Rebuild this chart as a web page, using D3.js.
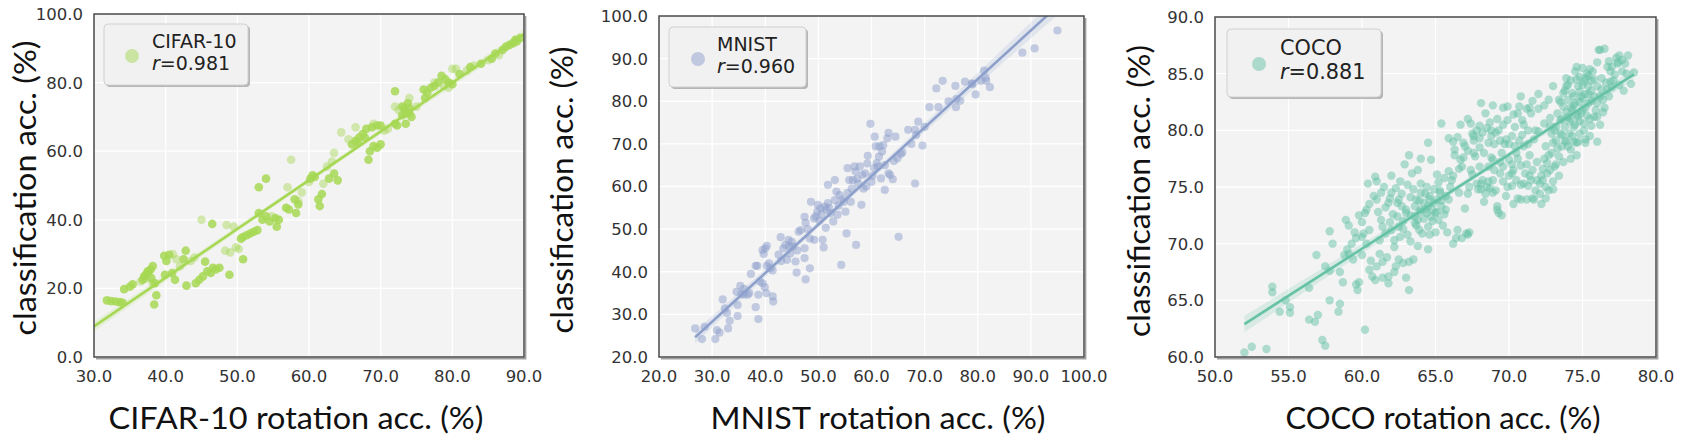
<!DOCTYPE html>
<html lang="en">
<head>
<meta charset="UTF-8">
<title>Rotation accuracy vs classification accuracy</title>
<script src="https://d3js.org/d3.v7.min.js"></script>
<style>
  body { margin: 0; background: #fff; }
  svg { display: block; }
  .tick-label { font-family: "DejaVu Sans", sans-serif; font-size: 16.5px; fill: #333; }
  .axis-title { font-family: Lato, "Open Sans", sans-serif; fill: #111; }
  .legend-text { font-family: "DejaVu Sans", sans-serif; fill: #222; }
</style>
</head>
<body>
<svg id="chart" width="1684" height="436"></svg>
<script>
// ---- data ----
const cifarDark = [
  [31.8,16.5],[32.4,16.3],[33.0,16.2],[33.6,16.0],[34.0,15.8],
  [34.2,19.8],[35.0,20.5],[35.4,21.2],
  [36.8,22.5],[37.0,23.5],[37.3,24.2],[37.6,24.8],[37.9,25.5],[38.2,26.5],[37.5,25.0],[38.0,23.0],
  [38.5,21.5],[38.7,18.0],[38.4,15.3],
  [39.8,29.5],[40.1,28.0],[40.5,29.8],[40.9,24.5],[39.9,24.0],[41.3,22.5],
  [42.5,28.5],[42.8,31.0],[42.9,20.8],[44.2,21.5],[44.7,22.5],[45.2,23.5],[45.5,27.8],[45.8,25.0],
  [46.3,24.5],[46.6,26.0],[47.0,25.5],[47.5,26.0],[46.5,38.8],
  [48.9,24.0],[50.5,34.5],[50.8,35.0],[51.3,35.5],[51.8,36.0],[52.3,36.5],[52.8,37.0],[50.8,28.5],
  [53.0,42.0],[53.5,40.0],[54.0,41.0],[54.5,39.5],[55.3,40.5],[55.5,38.0],[55.8,40.0],[54.0,52.0],[53.0,49.5],
  [56.8,43.5],[57.2,43.0],[58.0,46.0],[58.2,42.0],[58.5,44.5],
  [60.2,52.0],[60.5,53.0],[60.8,52.5],[61.3,46.0],[61.5,44.0],[61.8,47.5],[62.8,52.0],[63.5,53.5],[64.0,51.5],
  [66.0,62.0],[66.5,63.0],[67.0,64.0],[67.5,65.0],[68.0,66.5],[67.8,64.0],[66.8,62.5],[68.5,60.0],[68.3,57.5],
  [69.0,61.5],[69.5,61.0],[70.0,62.0],[69.5,67.5],[70.0,67.5],[68.8,67.0],
  [72.0,77.5],[73.0,73.0],[73.3,72.5],[73.8,74.0],[73.0,70.5],[74.0,71.0],[74.3,70.0],[73.5,68.0],[72.3,67.5],
  [72.0,68.0],[73.5,71.0],[74.0,72.5],
  [76.0,78.0],[76.5,77.0],[77.0,78.5],[77.5,79.0],[78.0,80.0],[78.5,82.0],[79.0,81.0],[79.5,80.0],[80.0,79.5],[76.2,75.5],
  [81.0,82.5],[82.5,84.5],[84.0,85.5],[85.5,87.0],[86.0,88.5],[87.0,89.5],[87.5,90.5],[88.0,91.0],[88.5,91.5],
  [89.0,92.0],[89.5,93.0],[88.8,92.5]
];
const cifarLight = [
  [36.5,22.0],[37.2,22.8],[38.2,21.5],[41.0,30.0],[41.5,28.5],[42.0,26.5],[43.5,28.0],[44.0,29.0],[45.0,40.0],
  [48.5,38.5],[49.0,30.5],[49.5,38.0],[48.3,31.0],[49.8,32.0],[50.2,31.5],[54.8,41.0],[57.5,57.5],[57.0,49.5],
  [58.5,45.5],[59.0,48.0],[60.0,51.0],[62.0,50.5],[62.5,55.5],[63.2,57.0],[63.5,59.5],[64.5,65.5],[65.5,63.5],
  [66.5,67.0],[69.0,68.0],[70.5,66.0],[71.0,66.5],[72.0,73.0],[72.5,72.0],[74.0,75.5],[75.0,73.0],[77.5,80.0],
  [78.8,79.0],[79.5,78.5],[80.0,84.0],[80.5,84.0],[82.0,83.5],[83.0,85.0],[85.0,86.5],[86.5,88.0]
];
const mnistPoints = [
  [26.8,26.7],[28.1,24.2],[28.6,27.1],[30.6,24.2],[30.9,26.3],[31.4,25.7],[32.0,33.5],[32.4,31.4],[32.8,30.3],
  [33.3,28.5],[33.0,26.7],[34.6,35.3],[34.8,32.2],[34.8,29.6],[35.3,36.7],[36.0,34.6],[36.7,34.6],[35.5,34.8],
  [37.3,39.5],[38.2,41.4],[38.5,41.4],[38.2,31.7],[38.7,28.9],[38.7,34.6],[39.0,37.7],[39.5,37.3],[39.9,36.4],
  [40.2,35.0],[39.5,45.1],[40.0,45.5],[40.3,46.1],[39.7,44.2],[40.3,41.4],[40.7,42.0],[41.0,40.8],[41.4,40.3],
  [41.4,34.2],[41.5,33.0],[42.9,48.1],[43.4,45.5],[43.8,46.3],[44.4,47.5],[44.1,42.8],[44.7,44.3],[45.2,45.9],
  [45.7,42.4],[45.9,39.8],[46.3,49.4],[46.7,49.8],[47.4,52.9],[47.6,51.5],[47.4,45.5],[47.4,43.2],[47.6,38.2],
  [48.4,40.8],[48.6,56.4],[48.4,47.8],[49.2,52.5],[49.2,47.5],[49.8,54.1],[49.9,55.7],[50.4,54.9],[50.8,47.5],
  [51.0,45.7],[51.4,50.3],[51.2,55.3],[51.8,56.1],[51.8,60.4],[52.3,53.7],[52.8,51.8],[53.1,56.8],[53.1,61.5],
  [53.4,58.8],[53.6,53.4],[54.0,58.0],[54.3,41.6],[54.8,56.4],[55.1,54.1],[55.3,49.0],[55.5,64.3],[55.8,61.5],
  [56.1,56.4],[56.5,61.5],[56.8,64.7],[57.0,63.5],[57.1,46.3],[57.5,60.7],[57.8,64.7],[58.1,55.7],[58.3,62.7],
  [58.8,63.1],[59.0,60.0],[59.2,65.4],[59.3,67.2],[59.8,74.7],[60.0,61.1],[60.5,64.3],[60.6,71.7],[60.8,69.4],
  [61.2,64.7],[61.4,67.0],[61.5,69.4],[61.8,61.9],[62.0,68.2],[62.2,69.7],[62.5,59.2],[62.5,65.0],[63.0,71.3],
  [63.2,72.6],[63.2,63.1],[63.5,62.7],[64.0,61.7],[64.5,71.7],[64.9,66.6],[65.1,48.2],[65.5,67.6],[66.9,73.3],
  [68.2,73.3],[68.4,72.1],[68.8,75.2],[68.2,60.7],[69.6,69.6],[70.9,78.6],[72.2,83.0],[72.6,78.6],[73.4,84.8],
  [75.8,83.6],[75.9,78.6],[76.7,80.1],[77.6,84.6],[78.9,84.2],[79.6,81.6],[80.6,84.8],[81.2,87.2],[81.6,84.8],
  [82.3,83.3],[88.4,91.4],[90.7,92.4],[95.0,96.6],
  [50.2,52.0],[50.6,53.5],[51.5,54.5],[52.0,55.0],[53.8,55.5],[54.5,57.0],[55.5,58.5],[56.3,59.5],[57.3,61.8],
  [44.5,46.0],[45.0,47.0],[46.0,45.0],[42.5,44.0],[43.0,42.5],[36.0,36.0],[37.0,35.0],[49.5,53.0],[48.0,50.0],
  [58.5,59.5],[60.2,62.5],[61.0,65.5],[64.2,66.0],[65.8,68.0],[67.5,70.0],[70.0,74.0],[74.5,80.0],[76.0,80.5],
  [79.0,84.0],[81.5,85.5]
];
const cocoPoints = [
  [52.0,60.4],[52.5,60.9],[53.5,60.7],[53.9,66.2],[53.9,65.7],[54.4,64.0],[54.8,65.0],[55.1,64.4],[55.1,63.9],
  [56.4,66.1],[56.4,63.3],[56.8,63.1],[57.0,63.7],[56.9,69.0],[57.3,61.5],[57.5,61.0],[57.8,71.1],[57.8,65.0],
  [57.8,67.6],[58.4,64.0],[58.5,64.7],[58.7,66.6],[58.9,72.1],[59.1,71.6],[59.1,69.1],[59.4,68.6],[59.3,70.0],
  [59.6,66.4],[59.7,65.9],[59.8,66.6],[60.0,71.9],[60.2,62.4],[60.0,70.6],[60.1,70.9],[60.2,72.7],[60.4,75.3],
  [60.5,71.2],[60.5,67.7],[60.7,67.1],[60.9,66.8],[60.9,75.9],[61.0,75.5],[61.0,73.9],[61.2,70.3],[61.2,69.1],
  [61.3,74.5],[61.3,72.1],[61.4,68.4],[61.6,70.9],[61.7,68.8],[61.8,67.1],[61.8,73.6],[62.0,74.5],[62.0,71.2],
  [62.2,70.3],[62.2,69.7],[62.2,67.5],[62.3,74.9],[62.4,72.4],[62.5,73.9],[62.5,68.6],[62.6,75.5],[62.7,73.3],
  [62.8,71.3],[63.0,72.7],[63.1,70.8],[63.2,68.4],[63.2,65.9],[63.3,74.1],[63.4,76.2],[63.5,68.6],[63.6,72.4],
  [63.6,73.3],[63.7,73.9],[63.7,71.6],[63.8,72.1],[63.9,71.2],[64.0,75.3],[64.0,73.0],[64.1,70.9],[64.2,73.6],
  [64.3,74.4],[64.4,72.7],[64.5,73.3],[64.5,78.9],[64.6,73.9],[64.7,72.4],[64.7,77.4],[64.8,73.0],[64.9,73.6],
  [65.0,72.7],[65.1,76.1],[65.1,73.9],[65.2,72.1],[65.3,74.5],[65.3,74.7],[65.4,73.3],[65.4,80.6],[65.5,71.6],
  [65.6,72.6],[65.7,74.2],[65.9,79.3],[65.9,73.9],[66.0,75.0],[66.1,75.6],[66.3,78.3],[66.3,77.8],[66.4,70.5],
  [66.5,79.4],[66.5,71.2],[66.6,74.5],[66.7,77.4],[66.8,76.8],[66.9,78.9],[67.0,78.6],[67.0,73.1],[67.1,70.9],
  [67.2,70.8],[67.2,74.4],[67.3,75.0],[67.4,80.6],[67.5,79.7],[67.5,76.1],[67.6,79.1],[67.7,77.7],[67.8,80.0],
  [67.8,75.3],[68.0,79.3],[68.0,80.4],[68.1,82.4],[68.1,74.8],[68.2,75.6],[68.3,73.7],[68.3,78.0],[68.4,74.4],
  [68.5,80.2],[68.5,75.0],[68.6,78.9],[68.6,76.8],[68.7,74.9],[68.8,80.0],[68.9,77.4],[68.9,75.6],[69.0,78.8],
  [69.1,74.7],[69.2,73.3],[69.3,72.7],[69.3,80.0],[69.4,76.2],[69.4,79.1],[69.5,78.0],[69.6,76.8],[69.7,78.8],
  [69.8,74.2],[69.9,80.9],[69.9,82.1],[70.0,77.4],[70.0,78.8],[70.2,76.2],[70.2,75.1],[70.3,81.4],[70.3,76.5],
  [70.4,80.3],[70.5,78.0],[70.5,75.6],[70.6,74.0],[70.7,82.1],[70.7,79.1],[70.8,76.9],[70.8,73.9],[70.9,80.9],
  [71.0,75.3],[71.0,78.6],[71.1,76.2],[71.2,73.9],[71.2,81.9],[71.3,80.0],[71.3,75.1],[71.4,77.8],[71.5,81.5],
  [71.5,75.6],[71.6,76.5],[71.7,73.9],[71.8,74.7],[71.9,75.6],[72.0,81.9],[72.1,74.4],[72.1,75.3],[72.3,76.6],
  [72.3,75.6],[72.4,77.5],[72.5,75.0],[72.5,78.6],[72.6,76.2],[72.6,77.1],[72.7,74.7],[72.7,82.7],[72.8,81.1],
  [72.9,79.7],[72.9,78.0],[73.0,78.9],[73.0,83.9],[73.1,76.8],[73.2,80.3],[73.2,79.1],[73.3,81.5],[73.4,77.7],
  [73.4,82.7],[73.5,80.9],[73.5,79.7],[73.6,78.6],[73.7,83.3],[73.7,82.1],[73.8,80.3],[73.8,79.1],[73.9,83.9],
  [74.0,81.2],[74.0,82.7],[74.1,79.7],[74.2,78.3],[74.2,84.4],[74.3,81.8],[74.3,83.3],[74.4,80.3],[74.5,85.2],
  [74.5,82.4],[74.6,78.9],[74.7,83.9],[74.7,81.2],[74.8,79.7],[74.8,84.7],[74.9,83.0],[75.0,85.5],[75.0,81.8],
  [75.1,84.3],[75.1,80.6],[75.2,78.9],[75.2,83.2],[75.3,85.0],[75.4,82.4],[75.4,83.9],[75.5,81.0],[75.6,84.4],
  [75.7,85.2],[75.8,83.0],[75.9,81.8],[76.0,83.9],[76.1,87.1],[76.2,83.0],[76.2,87.1],[76.3,84.6],[76.4,82.7],
  [76.5,87.2],[76.7,83.6],[76.8,86.1],[76.9,84.3],[77.0,85.6],[77.2,84.9],[77.3,86.4],[77.4,85.9],[77.5,86.6],
  [77.7,85.2],[77.9,85.9],[78.1,86.6],[78.3,84.1],[78.5,85.1],
  [73.5,82.5],[73.8,83.5],[74.0,84.0],[74.2,82.0],[74.4,83.0],[74.6,84.5],[74.8,82.5],[75.0,84.0],[75.2,82.0],
  [75.4,84.8],[75.6,83.5],[75.8,84.5],[74.1,80.8],[74.3,79.5],[74.5,80.5],[74.7,79.0],[74.9,81.5],[75.1,80.0],
  [75.3,81.3],[73.6,81.0],[73.9,79.0],[74.2,77.5],[74.6,77.8],[73.2,77.0],[73.4,76.0],[72.8,76.5],[73.0,75.5],
  [76.5,82.0],[76.8,83.0],[76.2,80.5],[77.5,84.0],[77.8,83.5],[75.5,79.5],[76.0,79.0],
  [63.0,73.0],[63.3,72.5],[63.6,71.8],[63.9,72.8],[64.2,72.2],[64.5,71.5],[64.8,72.0],[65.1,72.8],[65.4,73.8],
  [65.7,73.0],[64.0,74.5],[64.4,75.0],[63.8,76.5],[62.9,77.0],[63.2,77.8],[64.0,77.5],[62.0,76.0],[61.5,75.0],
  [62.5,71.5],[62.8,72.0],
  [66.2,79.0],[66.7,80.5],[67.2,81.0],[67.6,79.5],[68.0,78.5],[68.4,81.5],[68.8,79.5],[69.2,81.0],[69.6,80.5],
  [70.2,79.5],[70.6,81.5],[71.0,80.5],[71.4,82.0],[71.8,80.0],[71.2,77.0],[70.6,77.5],[70.0,76.0],[69.6,75.5],
  [69.0,76.5],[68.6,75.5],[67.9,74.8],[68.1,75.3],[68.9,74.5],[69.9,75.0],[71.6,74.0],[72.2,73.5],[72.5,74.0],
  [73.0,74.8],
  [59.0,69.5],[59.6,70.5],[60.0,69.0],[60.6,68.5],[61.0,68.0],[61.4,67.0],[61.8,66.5],[62.3,68.0],[62.8,68.3],
  [63.0,67.0],[58.5,67.5],[57.5,68.0],[58.0,70.0],[59.8,72.5],[60.3,73.0],
  [66.8,70.5],[67.3,71.0],[69.2,73.0],[69.5,72.5],[70.3,73.5],[65.8,71.0],[66.2,70.0],[64.5,69.5],
  [60.5,73.5],[60.8,74.2],[61.1,72.8],[61.6,73.2],[61.9,74.0],[62.1,72.6],[62.4,73.6],[62.7,74.4],[63.1,75.2],
  [63.5,74.8],[63.9,73.8],[64.3,73.0],[64.6,74.2],[64.9,74.8],[65.2,75.4],[65.6,75.8],[65.9,76.4],[66.2,76.0],
  [66.6,76.6],[66.9,77.6],[61.4,71.5],[61.9,71.9],[62.6,70.6],[63.3,70.2],[63.8,69.8],[64.6,70.8],[65.0,71.0],
  [60.3,70.0],[59.5,71.0],[58.8,69.0],
  [67.2,78.2],[67.6,78.0],[68.2,79.8],[68.7,80.7],[69.1,79.8],[69.8,79.2],[70.4,78.6],[70.9,79.6],[71.3,78.8],
  [71.7,79.2],[72.0,79.9],[72.4,80.6],[72.8,80.4],[67.4,76.5],[68.0,76.8],[68.8,77.6],[69.4,77.2],[70.2,77.0],
  [70.8,75.2],[71.4,76.0],[71.9,77.2],[72.2,76.0],[72.7,77.8],
  [73.3,78.4],[73.6,79.6],[73.9,81.6],[74.2,81.0],[74.4,82.2],[74.6,81.4],[74.8,83.4],[75.0,82.8],[75.2,84.6],
  [75.4,83.2],[75.6,82.6],[75.8,81.2],[76.0,82.4],[76.3,83.6],[76.6,84.2],[76.9,85.2],[77.1,84.4],[77.4,86.0],
  [77.7,86.2],[78.0,85.0],[73.1,80.0],[73.7,77.2],[74.0,78.6],[74.4,79.0],[74.8,80.8],[75.2,79.2],[75.6,80.4],
  [76.0,81.2],[76.4,81.6],[76.7,85.6],[77.0,83.8],[73.9,84.6],[74.6,85.6],[75.5,85.4],[76.0,86.0],[72.4,82.2],
  [72.0,83.2],[71.6,82.6],[70.8,83.0],[69.6,82.0],[68.9,82.2]
];

const cifarXTicks = [30, 40, 50, 60, 70, 80, 90];
const cifarYTicks = [0, 20, 40, 60, 80, 100];
const mnistXTicks = [20, 30, 40, 50, 60, 70, 80, 90, 100];
const mnistYTicks = [20, 30, 40, 50, 60, 70, 80, 90, 100];
const cocoXTicks = [50, 55, 60, 65, 70, 75, 80];
const cocoYTicks = [60, 65, 70, 75, 80, 85, 90];

const datasetNames = ["CIFAR-10", "MNIST", "COCO"];
const corrValues = ["0.981", "0.960", "0.881"];

// ---- layout of the three panels ----
const panels = [
  {
    name: datasetNames[0], r: corrValues[0], color: "#a6d854",
    groups: [{ pts: cifarDark, op: 0.85 }, { pts: cifarLight, op: 0.45 }],
    xTicks: cifarXTicks, yTicks: cifarYTicks,
    box: { l: 94, r: 524, t: 14, b: 357 }, fitRange: [30, 90], radius: 4.3,
    legend: { x: 104, y: 24, w: 144, h: 61, mx: 132, my: 56, tx: 152, b1: 48, b2: 70, fs: 19 },
    xTitle: { cx: 296, y: 429, w: 375 }, yTitle: { x: 36, cy: 188, w: 295 }
  },
  {
    name: datasetNames[1], r: corrValues[1], color: "#8da0cb",
    groups: [{ pts: mnistPoints, op: 0.5 }],
    xTicks: mnistXTicks, yTicks: mnistYTicks,
    box: { l: 659, r: 1084, t: 16, b: 357 }, fitRange: null, radius: 4.1,
    legend: { x: 669, y: 27, w: 137, h: 60, mx: 698, my: 59, tx: 717, b1: 51, b2: 73, fs: 19 },
    xTitle: { cx: 878, y: 429, w: 335 }, yTitle: { x: 573, cy: 190, w: 287 }
  },
  {
    name: datasetNames[2], r: corrValues[2], color: "#66c2a5",
    groups: [{ pts: cocoPoints, op: 0.5 }],
    xTicks: cocoXTicks, yTicks: cocoYTicks,
    box: { l: 1215, r: 1656, t: 17, b: 357 }, fitRange: null, radius: 4.2,
    legend: { x: 1227, y: 29, w: 154, h: 68, mx: 1259, my: 64, tx: 1280, b1: 55, b2: 79, fs: 20.8 },
    xTitle: { cx: 1443, y: 429, w: 315 }, yTitle: { x: 1150, cy: 191, w: 292 }
  }
];

const titleFont = 31;   // Lato size giving a Calibri-like cap height

const svg = d3.select("#chart");
const defs = svg.append("defs");

// least squares fit + 95% band of the mean
function fitLine(pts) {
  const n = pts.length;
  const mx = d3.mean(pts, d => d[0]), my = d3.mean(pts, d => d[1]);
  let sxx = 0, sxy = 0;
  pts.forEach(([x, y]) => { sxx += (x - mx) ** 2; sxy += (x - mx) * (y - my); });
  const b = sxy / sxx, a = my - b * mx;
  let sse = 0;
  pts.forEach(([x, y]) => { sse += (y - a - b * x) ** 2; });
  const s = Math.sqrt(sse / (n - 2));
  return {
    f: x => a + b * x,
    se: x => s * Math.sqrt(1 / n + (x - mx) ** 2 / sxx)
  };
}

// draws a title and squeezes it along its direction to the wanted length
function addTitle(g, label, transform, target) {
  const holder = g.append("g");
  const txt = holder.append("text").attr("class", "axis-title")
    .attr("text-anchor", "middle").attr("font-size", titleFont)
    .text(label);
  const len = txt.node().getComputedTextLength();
  holder.attr("transform", `${transform} scale(${target / len},1)`);
}

panels.forEach((p, i) => {
  const { l, r, t, b } = p.box;
  const x = d3.scaleLinear().domain(d3.extent(p.xTicks)).range([l, r]);
  const y = d3.scaleLinear().domain(d3.extent(p.yTicks)).range([b, t]);
  const g = svg.append("g");

  defs.append("clipPath").attr("id", "clip" + i)
    .append("rect").attr("x", l).attr("y", t).attr("width", r - l).attr("height", b - t);

  // background + grid
  g.append("rect").attr("x", l).attr("y", t).attr("width", r - l).attr("height", b - t)
    .attr("fill", "#f3f3f3");
  g.selectAll(".vgrid").data(p.xTicks.slice(1, -1)).join("line")
    .attr("x1", d => x(d)).attr("x2", d => x(d)).attr("y1", t).attr("y2", b)
    .attr("stroke", "#fff").attr("stroke-width", 1.3);
  g.selectAll(".hgrid").data(p.yTicks.slice(1, -1)).join("line")
    .attr("y1", d => y(d)).attr("y2", d => y(d)).attr("x1", l).attr("x2", r)
    .attr("stroke", "#fff").attr("stroke-width", 1.3);

  const plot = g.append("g").attr("clip-path", `url(#clip${i})`);

  // regression line with band
  const all = p.groups.flatMap(gr => gr.pts);
  const fit = fitLine(all);
  const [x0, x1] = p.fitRange || d3.extent(all, d => d[0]);
  const xs = d3.range(0, 61).map(k => x0 + (x1 - x0) * k / 60);
  plot.append("path")
    .datum(xs)
    .attr("fill", p.color).attr("fill-opacity", 0.18)
    .attr("d", d3.area().x(d => x(d))
      .y0(d => y(fit.f(d) - 1.96 * fit.se(d)))
      .y1(d => y(fit.f(d) + 1.96 * fit.se(d))));

  p.groups.forEach(gr => {
    plot.append("g").selectAll("circle").data(gr.pts).join("circle")
      .attr("cx", d => x(d[0])).attr("cy", d => y(d[1])).attr("r", p.radius)
      .attr("fill", p.color).attr("fill-opacity", gr.op);
  });

  plot.append("line")
    .attr("x1", x(x0)).attr("y1", y(fit.f(x0)))
    .attr("x2", x(x1)).attr("y2", y(fit.f(x1)))
    .attr("stroke", p.color).attr("stroke-width", 2.6);

  // frame with a little shadow on right/bottom
  g.append("path")
    .attr("d", `M${r + 1.6},${t + 2}V${b + 1.6}H${l + 2}`)
    .attr("fill", "none").attr("stroke", "#a0a0a0").attr("stroke-width", 1.6);
  g.append("rect").attr("x", l).attr("y", t).attr("width", r - l).attr("height", b - t)
    .attr("fill", "none").attr("stroke", "#4a4a4a").attr("stroke-width", 1.5);

  // tick labels
  g.selectAll(".xt").data(p.xTicks).join("text")
    .attr("class", "tick-label")
    .attr("x", d => x(d)).attr("y", b + 25)
    .attr("text-anchor", "middle")
    .text(d => d.toFixed(1));
  g.selectAll(".yt").data(p.yTicks).join("text")
    .attr("class", "tick-label")
    .attr("x", l - 11).attr("y", d => y(d))
    .attr("dy", "0.36em")
    .attr("text-anchor", "end")
    .text(d => d.toFixed(1));

  // legend
  const L = p.legend;
  g.append("rect").attr("x", L.x + 2).attr("y", L.y + 2).attr("width", L.w).attr("height", L.h)
    .attr("rx", 4).attr("fill", "#9a9a9a").attr("opacity", 0.7);
  g.append("rect").attr("x", L.x).attr("y", L.y).attr("width", L.w).attr("height", L.h)
    .attr("rx", 4).attr("fill", "#f1f1f1").attr("stroke", "#d0d0d0").attr("stroke-width", 1);
  g.append("circle").attr("cx", L.mx).attr("cy", L.my).attr("r", 7)
    .attr("fill", p.color).attr("fill-opacity", 0.5);
  g.append("text").attr("class", "legend-text").attr("x", L.tx).attr("y", L.b1)
    .attr("font-size", L.fs).text(p.name);
  const rt = g.append("text").attr("class", "legend-text").attr("x", L.tx).attr("y", L.b2)
    .attr("font-size", L.fs);
  rt.append("tspan").attr("font-style", "italic").text("r");
  rt.append("tspan").text("=" + p.r);

  // axis titles
  addTitle(g, p.name + " rotation acc. (%)",
    `translate(${p.xTitle.cx},${p.xTitle.y})`, p.xTitle.w);
  addTitle(g, "classification acc. (%)",
    `translate(${p.yTitle.x},${p.yTitle.cy}) rotate(-90)`, p.yTitle.w);
});
</script>
</body>
</html>
